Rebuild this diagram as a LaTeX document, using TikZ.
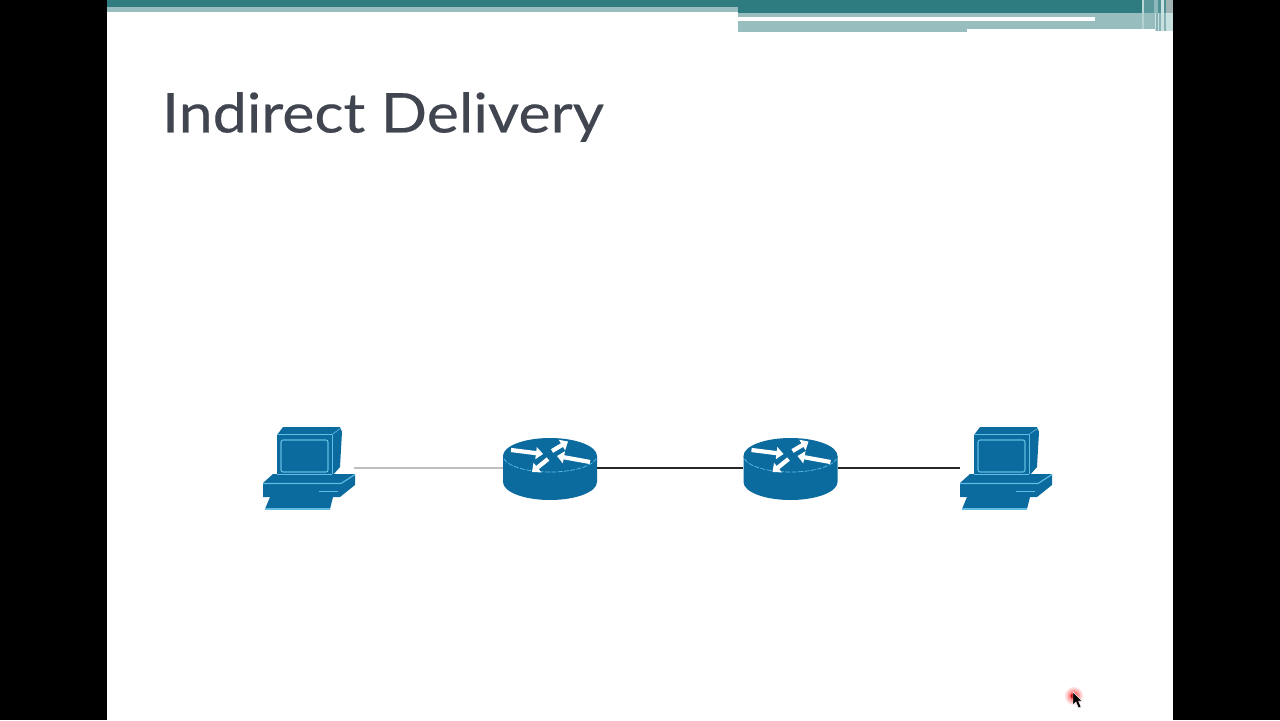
\documentclass[tikz,border=0pt]{standalone}
\usepackage{fontspec}
\setmainfont{Lato}
\newfontfamily\titlefont[FakeStretch=1.11,FakeBold=0.3]{Lato}
\usetikzlibrary{arrows.meta}
\definecolor{devblue}{HTML}{0B6A9E}
\definecolor{devlight}{HTML}{62BCE3}
\definecolor{teal1}{HTML}{2F7C80}
\definecolor{teal2}{HTML}{98BDBE}
\definecolor{teal3}{HTML}{C9E0E0}
\definecolor{titlec}{HTML}{41454F}
\tikzset{
  x=0.05cm,y=-0.05cm,
  devfill/.style={fill=devblue,draw=none},
  devedge/.style={draw=devlight,line width=1.6pt,line join=round},
  rarrow/.style={draw=white,line width=6pt,-{Triangle[length=10pt,width=17pt]}},
  link/.style={line width=1.5pt},
  box/.style={inner sep=0pt,outer sep=0pt,minimum height=1.5cm},
  pics/computer/.style={code={
    \fill[devfill] (277,435)--(283,427)--(340,427)--(342,432)--(340,467)--(332,476)--(277,476)--cycle;
    \fill[devfill] (263,483)--(273,474)--(355,474)--(355,485)--(340,497)--(263,497)--cycle;
    \fill[devfill] (270,497)--(265,509)--(330,509)--(333,497)--cycle;
    \draw[devedge,rounded corners=3pt] (281,440) rectangle (328,472);
    \draw[devedge,line width=.9pt] (277,434.5)--(332,434.5)--(341,428);
    \draw[devedge,line width=.9pt] (332,435)--(332,474);
    \draw[devedge] (277,474.5)--(332,474.5);
    \draw[devedge] (263,483.5)--(341,483.5)--(355,474.5);
    \draw[devedge,line width=2pt] (319,491.5)--(338,491.5);
    \draw[devedge,line width=2.8pt] (265,508.8)--(330,508.8);
  }},
  pics/routerbody/.style={code={
    \fill[devfill] (503,456)--(503,482) arc[start angle=180,end angle=0,x radius=47,y radius=18]--(597,456)--cycle;
    \fill[devfill] (550,456) ellipse[x radius=47,y radius=18];
    \draw[draw=devlight,line width=1pt,dash pattern=on 7pt off 2pt] (504,458.8) arc[start angle=170,end angle=10,x radius=46.7,y radius=16];
    \draw[rarrow] (511,450)--(543,454);
    \draw[rarrow] (552,451)--(568,441.5);
    \draw[rarrow] (590,462)--(557,456);
    \draw[rarrow] (548,459)--(532,472);
  }},
}
\begin{document}
\begin{tikzpicture}
\useasboundingbox (0,0) rectangle (1280,720);
\fill[black] (0,0) rectangle (1280,720);
\fill[white] (107,0) rectangle (1173,720);
% top band
\fill[teal2] (107,6) rectangle (738,12);
\fill[teal1] (107,0) rectangle (738,6.5);
\fill[teal2] (738,12) rectangle (1173,29);
\fill[teal2] (738,29) rectangle (967,32);
\fill[teal1] (738,0) rectangle (1142,13);
\fill[white] (738,17) rectangle (1095,21);
% stripes at the right end of the band
\fill[teal3] (1155,13) rectangle (1173,31);
\fill[teal1!72!teal3] (1144,0) rectangle (1154,13);
\fill[teal3!90!teal1] (1142,0) rectangle (1144,13);
\fill[teal3!60!teal1] (1154,0) rectangle (1158,13);
\fill[teal1!85!white] (1158,0) rectangle (1161,13);
\fill[teal3] (1161,0) rectangle (1164,13);
\fill[teal1!85!white] (1164,0) rectangle (1166,13);
\fill[black!20!teal3] (1166,0) rectangle (1173,13);
\fill[teal3!60!teal2] (1142,13) rectangle (1144,29);
\foreach \a/\b in {1156/1158,1159/1161,1164/1166}{
  \fill[teal2!85!teal1] (\a,13) rectangle (\b,31);
}
% title
\node[anchor=west,inner sep=0pt,text=titlec,font=\titlefont\fontsize{78}{86}\selectfont] (title) at (162,117) {Indirect Delivery};
% devices
\node[box,minimum width=4.5cm] (pc1) at (309,468) {};
\node[box,minimum width=4.7cm] (r1) at (550,468) {};
\node[box,minimum width=4.75cm] (r2) at (790.5,468) {};
\node[box,minimum width=4.6cm] (pc2) at (1006,468) {};
% links
\draw[link,draw=black!25] (pc1.east)--(r1.west);
\draw[link,draw=black!85] (r1.east)--(r2.west);
\draw[link,draw=black!85] (r2.east)--(pc2.west);
\pic at (0,0) {computer};
\pic at (697,0) {computer};
\pic at (0,0) {routerbody};
\pic at (240.5,0) {routerbody};
% pointer
\foreach \r/\o in {9/.12,7.5/.15,6/.2,4.5/.3}{\fill[red!85!pink,opacity=\o] (1074,696) circle[radius=\r];}
\fill[red!75!black,opacity=.8] (1073,696) circle[radius=2.5];
\fill[black,draw=white,line width=.6pt] (1073,692)--(1073,705)--(1076,702)--(1078.5,708)--(1081,707)--(1078.5,701)--(1082,701)--cycle;
\end{tikzpicture}
\end{document}
